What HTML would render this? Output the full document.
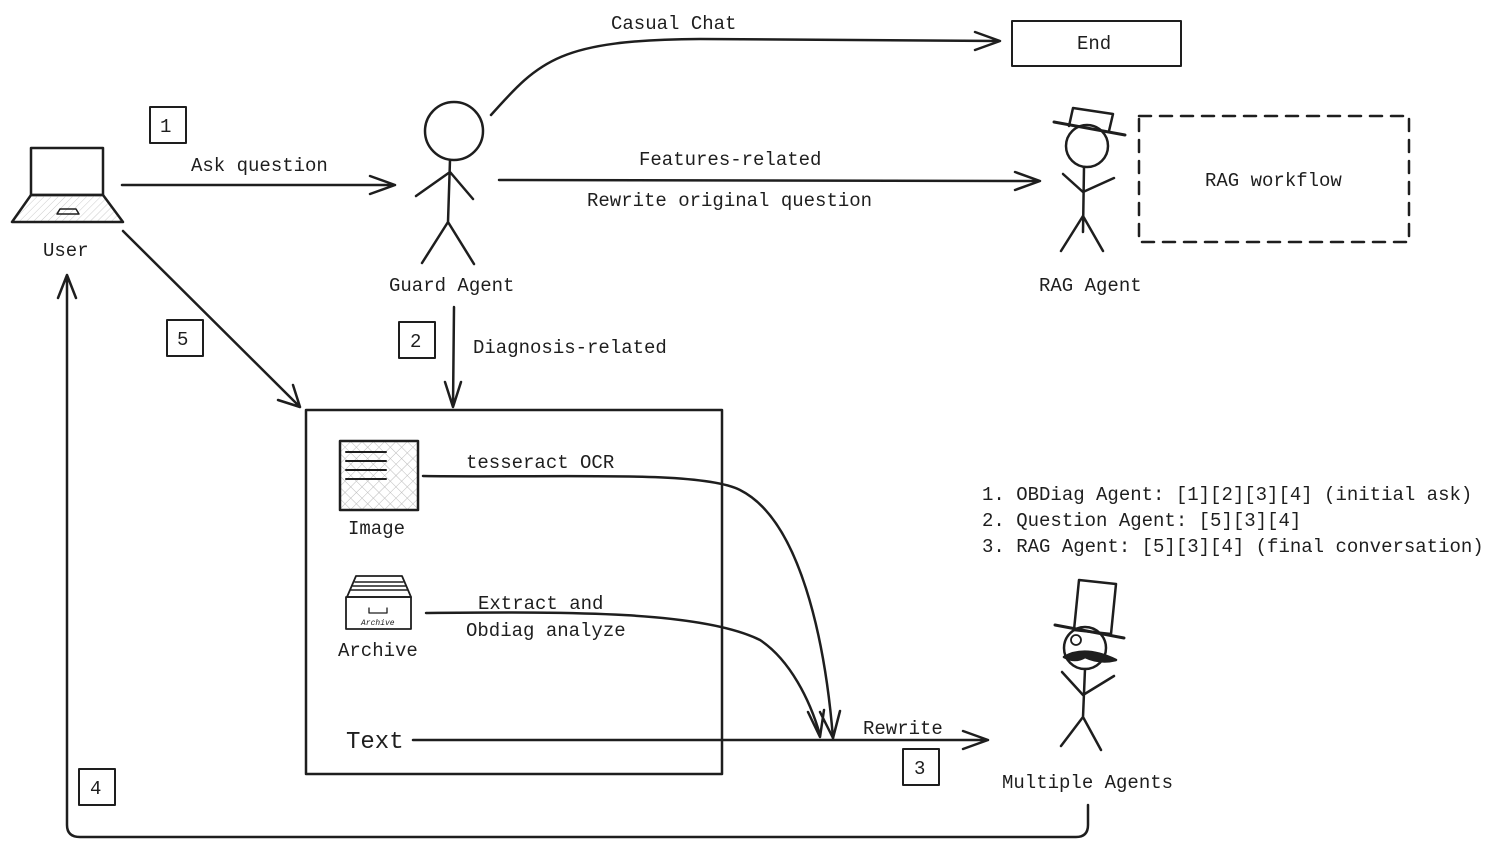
<!DOCTYPE html>
<html><head><meta charset="utf-8"><style>
html,body{margin:0;padding:0;background:#fff;}
svg{display:block;}
text{font-family:"Liberation Mono",monospace;font-size:19px;fill:#1e1e1e;}
</style></head><body>
<svg width="1500" height="849" viewBox="0 0 1500 849" xmlns="http://www.w3.org/2000/svg">
<defs>
<pattern id="hatch" width="8" height="8" patternUnits="userSpaceOnUse" patternTransform="rotate(45)">
<line x1="0" y1="0" x2="0" y2="8" stroke="#bbb" stroke-width="1"/>
<line x1="0" y1="0" x2="8" y2="0" stroke="#bbb" stroke-width="1"/>
</pattern>
<pattern id="hatch2" width="5" height="5" patternUnits="userSpaceOnUse" patternTransform="rotate(45)">
<line x1="0" y1="0" x2="0" y2="5" stroke="#ccc" stroke-width="1"/>
</pattern>
</defs>
<g stroke="#1e1e1e" fill="none" stroke-width="2.5" stroke-linecap="round" stroke-linejoin="round">
<rect x="31" y="148" width="72" height="47" fill="#fff"/>
<path d="M31 195 L12 222 L123 222 L103 195 Z" fill="url(#hatch2)"/>
<path d="M57 214 L60 209 L76 209 L79 214 Z" stroke-width="1.5"/>
<rect x="150" y="107" width="36" height="36" stroke-width="2"/>
<rect x="167" y="320" width="36" height="36" stroke-width="2"/>
<rect x="399" y="322" width="36" height="36" stroke-width="2"/>
<rect x="903" y="749" width="36" height="36" stroke-width="2"/>
<rect x="79" y="769" width="36" height="36" stroke-width="2"/>
<circle cx="454" cy="131" r="29"/>
<path d="M450 160 L448 222 M416 196 L450 172 L473 199 M448 222 L422 263 M448 222 L474 264"/>
<path d="M122 185 L395 185 M370 176 L395 185 L370 194"/>
<path d="M499 180 L1040 181 M1015 172 L1040 181 L1015 190"/>
<path d="M491 115 C540 60 560 40 700 39 L1000 41 M975 32 L1000 41 L975 50"/>
<path d="M454 307 L453 407 M445 382 L453 407 L461 382"/>
<path d="M123 231 L300 407 M278 400 L300 407 L293 385"/>
<path d="M1088 805 L1088 825 Q1088 837 1076 837 L80 837 Q67 837 67 825 L67 275 M58 298 L67 275 L76 298"/>
<rect x="1012" y="21" width="169" height="45" stroke-width="2"/>
<!-- RAG agent -->
<path d="M1069 126 L1073 108 L1113 114 L1109 131" stroke-width="2.5"/>
<path d="M1054 122 L1125 135" stroke-width="3"/>
<circle cx="1087" cy="146" r="21"/>
<path d="M1084 167 L1083 232 M1063 174 L1083 192 L1114 178 M1083 216 L1061 251 M1083 216 L1103 251"/>
<rect x="1139" y="116" width="270" height="126" stroke-width="2.5" stroke-dasharray="12 9"/>
<rect x="306" y="410" width="416" height="364" stroke-width="2.5"/>
<rect x="340" y="441" width="78" height="69" fill="url(#hatch)"/>
<path d="M346 452 L386 452 M346 461 L386 461 M346 470 L386 470 M346 479 L386 479" stroke-width="2"/>
<path d="M347 597 L356 576 L402 576 L411 597 Z" fill="#fff" stroke-width="1.8"/>
<path d="M355 582 L403 582 M353 586 L405 586 M351 590 L407 590" stroke-width="1.5"/>
<rect x="346" y="597" width="65" height="32" stroke-width="1.8"/>
<path d="M369 608 L369 613 L387 613 L387 608" stroke-width="1.3"/>
<path d="M423 476 C560 478 700 470 740 490 C800 520 825 640 833 738"/>
<path d="M426 613 C560 612 700 610 760 640 C790 660 810 700 820 735"/>
<path d="M808 712 L820 737 L824 710 M820 712 L833 738 L840 711"/>
<path d="M413 740 L988 740 M963 731 L988 740 L963 749"/>
<path d="M1079 580 L1116 584 L1111 634 L1074 630 Z"/>
<path d="M1055 625 L1124 638" stroke-width="3"/>
<circle cx="1085" cy="648" r="21"/>
<circle cx="1076" cy="640" r="5" stroke-width="1.8"/>
<path d="M1064 657 Q1085 645 1116 660 Q1100 664 1085 657 Q1075 663 1064 657 Z" fill="#1e1e1e"/>
<path d="M1085 669 L1083 717 M1062 672 L1083 695 L1114 676 M1083 717 L1061 746 M1083 717 L1101 750"/>
</g>
<text x="55" y="625" style="font-size:8px;font-style:italic" transform="translate(306 0)">Archive</text>
<text x="43" y="256">User</text>
<text x="160" y="132">1</text>
<text x="177" y="345">5</text>
<text x="410" y="347">2</text>
<text x="914" y="774">3</text>
<text x="90" y="794">4</text>
<text x="191" y="171">Ask question</text>
<text x="611" y="29">Casual Chat</text>
<text x="1077" y="49">End</text>
<text x="639" y="165">Features-related</text>
<text x="587" y="206">Rewrite original question</text>
<text x="1205" y="186">RAG workflow</text>
<text x="389" y="291">Guard Agent</text>
<text x="1039" y="291">RAG Agent</text>
<text x="473" y="353">Diagnosis-related</text>
<text x="466" y="468">tesseract OCR</text>
<text x="348" y="534">Image</text>
<text x="478" y="609">Extract and</text>
<text x="466" y="636">Obdiag analyze</text>
<text x="338" y="656">Archive</text>
<text x="346" y="748" style="font-size:24px">Text</text>
<text x="863" y="734">Rewrite</text>
<text x="1002" y="788">Multiple Agents</text>
<text x="982" y="500">1. OBDiag Agent: [1][2][3][4] (initial ask)</text>
<text x="982" y="526">2. Question Agent: [5][3][4]</text>
<text x="982" y="552">3. RAG Agent: [5][3][4] (final conversation)</text>
</svg>
</body></html>
